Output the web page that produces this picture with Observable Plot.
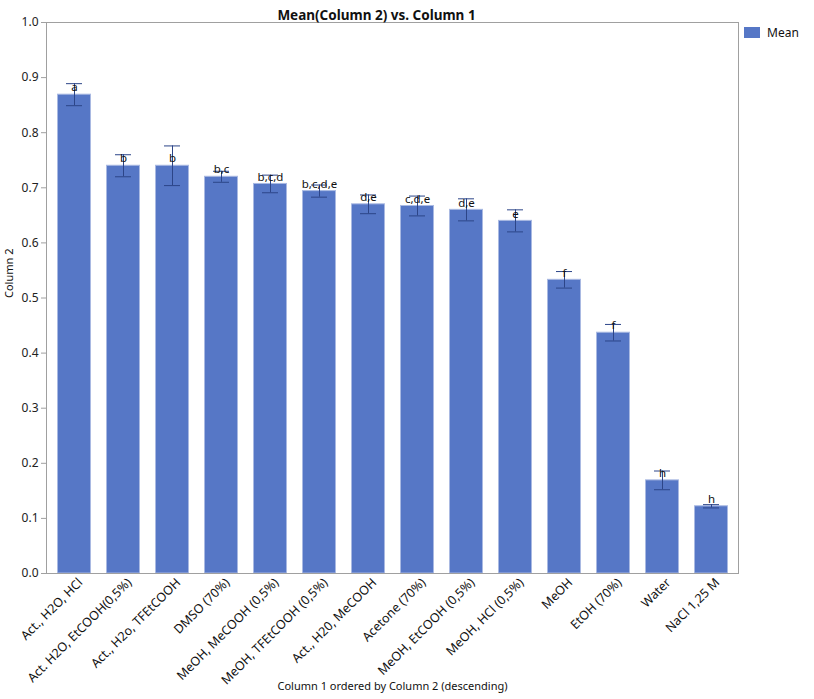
<!DOCTYPE html>
<html>
<head>
<meta charset="utf-8">
<script src="https://cdn.jsdelivr.net/npm/d3@7"></script>
<script src="https://cdn.jsdelivr.net/npm/@observablehq/plot@0.6"></script>
<style>
  html, body { margin: 0; padding: 0; background: #fff; }
  #wrap { position: relative; width: 814px; height: 699px; font-family: "Noto Sans", sans-serif; }
  #legend { position: absolute; left: 744px; top: 24px; display: flex; align-items: center; font-size: 12px; color: #111; }
  #legend .sw { width: 16px; height: 11px; background: #5677c6; margin-right: 7px; }
</style>
</head>
<body>
<div id="wrap">
  <div id="legend"><div class="sw"></div><span>Mean</span></div>
</div>
<script>
const categories = [
  "Act., H2O, HCl",
  "Act. H2O, EtCOOH(0,5%)",
  "Act., H2o, TFEtCOOH",
  "DMSO (70%)",
  "MeOH, MeCOOH (0,5%)",
  "MeOH, TFEtCOOH (0,5%)",
  "Act., H20, MeCOOH",
  "Acetone (70%)",
  "MeOH, EtCOOH (0,5%)",
  "MeOH, HCl (0,5%)",
  "MeOH",
  "EtOH (70%)",
  "Water",
  "NaCl 1,25 M"
];
const means  = [0.869, 0.740, 0.740, 0.720, 0.707, 0.694, 0.670, 0.667, 0.660, 0.640, 0.533, 0.437, 0.169, 0.122];
const errors = [0.020, 0.020, 0.036, 0.010, 0.016, 0.011, 0.017, 0.018, 0.020, 0.020, 0.015, 0.015, 0.017, 0.003];
const letters = ["a", "b", "b", "b,c", "b,c,d", "b,c,d,e", "d,e", "c,d,e", "d,e", "e", "f", "f", "h", "h"];
const yTicks = [0, 0.1, 0.2, 0.3, 0.4, 0.5, 0.6, 0.7, 0.8, 0.9, 1.0];

const data = categories.map((c, i) => ({cat: c, mean: means[i], err: errors[i], letter: letters[i]}));
const font = "Noto Sans, sans-serif";

const chart = Plot.plot({
  width: 814,
  height: 699,
  marginLeft: 46,
  marginRight: 76,
  marginTop: 22,
  marginBottom: 126,
  style: {fontFamily: font, fontSize: "12px", color: "#222", background: "white"},
  x: {domain: categories, paddingInner: 0.31, paddingOuter: 0.16},
  y: {domain: [0, 1]},
  marks: [
    Plot.barY(data, {x: "cat", y: "mean", fill: "#5677c6", stroke: "#a9b9e2", strokeWidth: 1, insetLeft: 0.5, insetRight: 0.5}),
    Plot.ruleX(data, {x: "cat", y1: d => d.mean - d.err, y2: d => d.mean + d.err, stroke: "#2c4588", strokeWidth: 1}),
    Plot.tickY(data, {x: "cat", y: d => d.mean + d.err, stroke: "#2c4588", strokeWidth: 1, insetLeft: 9, insetRight: 9}),
    Plot.tickY(data, {x: "cat", y: d => d.mean - d.err, stroke: "#2c4588", strokeWidth: 1, insetLeft: 9, insetRight: 9}),
    Plot.text(data, {x: "cat", y: "mean", text: "letter", dy: -7, fontSize: 11.5, fill: "#111"}),
    Plot.frame({stroke: "#a0a0a0"}),
    Plot.axisY({ticks: yTicks, tickFormat: d3.format(".1f"), tickSize: 5, tickPadding: 3, stroke: "#a0a0a0", fill: "#222", label: null, fontSize: 12}),
    Plot.axisX({tickSize: 0, tickPadding: 7, dx: 6, tickRotate: -45, label: null, fill: "#111", fontSize: 12.5}),
    Plot.text(["Mean(Column 2) vs. Column 1"], {frameAnchor: "top", dy: -12, dx: -16, fontWeight: "bold", fontSize: 13.5, fill: "#111"}),
    Plot.text(["Column 2"], {frameAnchor: "left", dx: -37, rotate: -90, fontSize: 11, fill: "#111"}),
    Plot.text(["Column 1 ordered by Column 2 (descending)"], {frameAnchor: "bottom", dy: 116, fontSize: 11, fill: "#111"})
  ]
});
document.getElementById("wrap").prepend(chart);
</script>
</body>
</html>
